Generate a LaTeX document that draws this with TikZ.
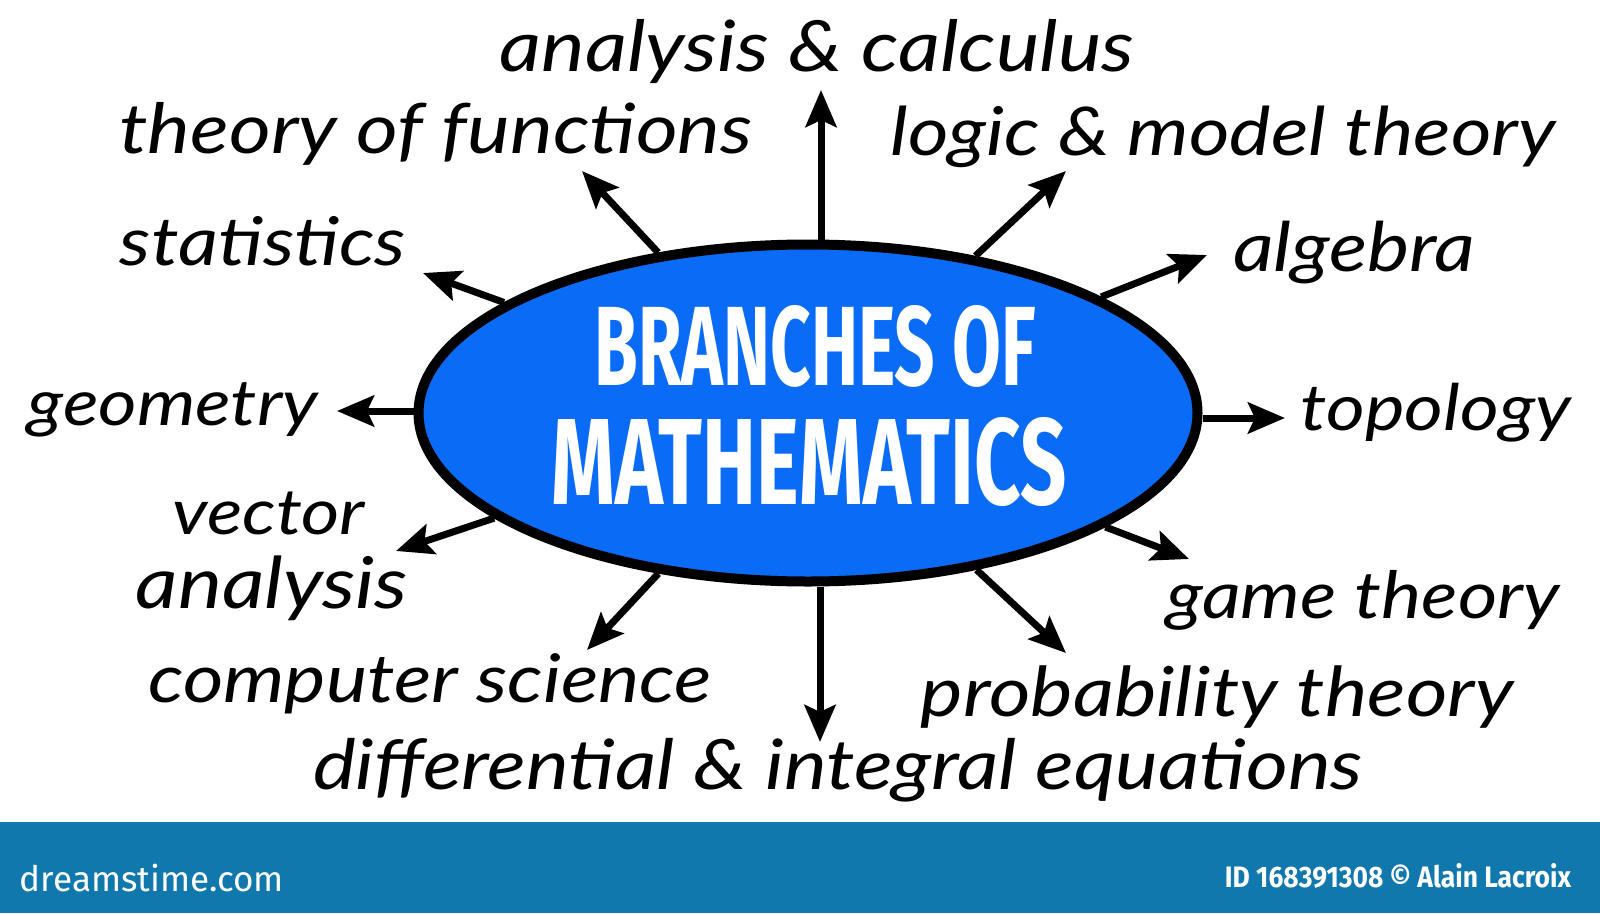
\documentclass[tikz,border=0pt]{standalone}
\usepackage{fontspec}
\setmainfont{Lato}
\newfontfamily\titlefont{Fira Sans}
\usetikzlibrary{arrows.meta,shapes.geometric}
\definecolor{ellblue}{RGB}{10,108,246}
\definecolor{barblue}{RGB}{16,120,173}
\newcommand\hw[2]{\resizebox{#1}{!}{\scalebox{1}[0.86]{#2}}}
\begin{document}
\begin{tikzpicture}[x=1pt,y=-1pt,
  lab/.style={anchor=base,inner sep=0pt,font=\itshape},
  arr/.style={line width=7pt,-{Stealth[length=37pt,width=31pt,inset=7pt]}},
  title/.style={inner sep=0pt,text=white,font=\titlefont\bfseries}]
\useasboundingbox (0,0) rectangle (1600,913);
\fill[white] (0,0) rectangle (1600,913);
\fill[barblue] (0,822) rectangle (1600,913);

% central ellipse
\node[ellipse,draw,line width=10pt,fill=ellblue,minimum width=779pt,minimum height=337pt,inner sep=0pt] (e) at (808,413) {};
\node[title] (t1) at (815,346) {\resizebox{441pt}{80pt}{BRANCHES OF}};
\node[title] (t2) at (809,462) {\resizebox{515pt}{87pt}{MATHEMATICS}};

% labels
\node[lab] (lAC) at (817,71) {\hw{635pt}{analysis \& calculus}};
\node[lab] (lTF) at (436,153) {\hw{633pt}{theory of functions}};
\node[lab] (lLM) at (1223,155) {\hw{665pt}{logic \& model theory}};
\node[lab] (lST) at (263,265) {\hw{286pt}{statistics}};
\node[lab] (lAL) at (1354,271) {\hw{242pt}{algebra}};
\node[lab] (lGE) at (173,425) {\hw{290pt}{geometry}};
\node[lab] (lTO) at (1436,430) {\hw{270pt}{topology}};
\node[lab] (lVE) at (269,534) {\hw{192pt}{vector}};
\node[lab] (lVA) at (272,608) {\hw{272pt}{analysis}};
\node[lab] (lCS) at (430,702) {\hw{563pt}{computer science}};
\node[lab] (lGT) at (1363,618) {\hw{393pt}{game theory}};
\node[lab] (lPR) at (1217,716) {\hw{592pt}{probability theory}};
\node[lab] (lDI) at (838,789) {\hw{1049pt}{differential \& integral equations}};

% arrow tips
\coordinate (tAC) at (821,90);
\coordinate (tTF) at (582,171);
\coordinate (tLM) at (1066,171);
\coordinate (tST) at (423,273);
\coordinate (tAL) at (1207,255);
\coordinate (tGE) at (337,411);
\coordinate (tTO) at (1285,418);
\coordinate (tVA) at (396,551);
\coordinate (tCS) at (587,650);
\coordinate (tDI) at (820,742);
\coordinate (tPR) at (1066,653);
\coordinate (tGT) at (1189,559);

\draw[arr] (e.north -| tAC) -- (tAC);
\draw[arr] (e) -- (tTF);
\draw[arr] (e) -- (tLM);
\draw[arr] (e) -- (tST);
\draw[arr] (e) -- (tAL);
\draw[arr] (e.west |- tGE) -- (tGE);
\draw[arr] (e.east |- tTO) -- (tTO);
\draw[arr] (e) -- (tVA);
\draw[arr] (e) -- (tCS);
\draw[arr] (e.south -| tDI) -- (tDI);
\draw[arr] (e) -- (tPR);
\draw[arr] (e) -- (tGT);

% footer bar
\node[inner sep=0pt,text=white,font=\titlefont] (ds) at (152,878) {\resizebox{264pt}{!}{dreamstime.com}};
\node[inner sep=0pt,text=white,font=\titlefont\bfseries] (id) at (1398,876) {\resizebox{346pt}{24pt}{ID 168391308 © Alain Lacroix}};
\end{tikzpicture}
\end{document}
